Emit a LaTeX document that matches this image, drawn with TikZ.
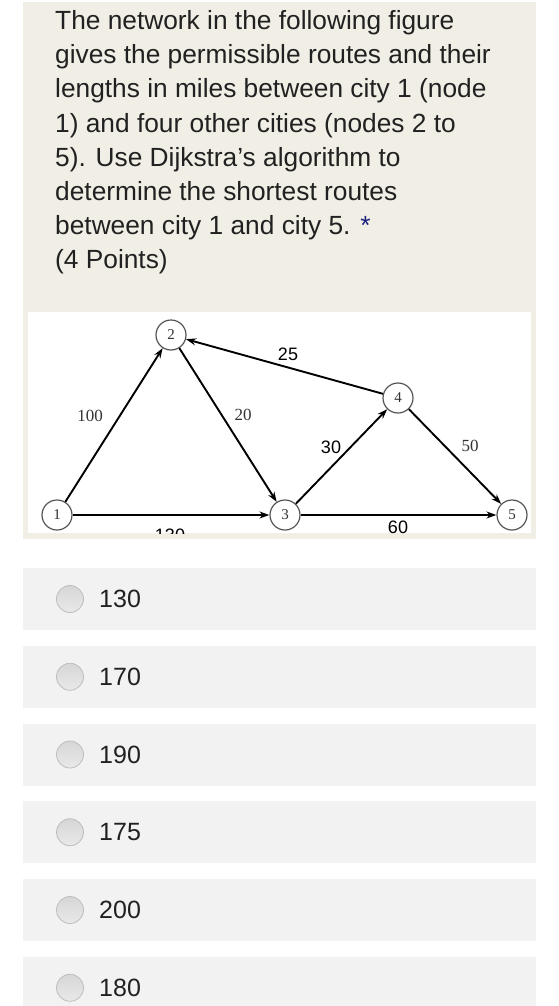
\documentclass[tikz,border=0pt]{standalone}
\usepackage{fontspec}
\setmainfont{Liberation Sans}
\newfontfamily\numserif{Liberation Serif}
\usetikzlibrary{arrows.meta}
\definecolor{panelbg}{HTML}{F1EEE5}
\definecolor{optbg}{HTML}{F2F2F2}
\definecolor{txt}{HTML}{212121}
\definecolor{starblue}{HTML}{1A237E}
\definecolor{radiotop}{HTML}{D6D6D6}
\definecolor{radiobot}{HTML}{E9E9E9}
\definecolor{radioedge}{HTML}{BDBDBD}
\definecolor{nodegrey}{HTML}{555555}
\definecolor{labgrey}{HTML}{333333}
\begin{document}
\begin{tikzpicture}[x=1pt,y=-1pt,
  qline/.style={anchor=base west, inner sep=0pt, text=txt, font=\fontsize{26.3}{30}\selectfont},
  optbox/.style={fill=optbg, draw=none, minimum width=513pt, minimum height=62pt, anchor=north west, inner sep=0pt},
  radio/.style={circle, minimum size=27pt, inner sep=0pt, draw=radioedge, line width=0.8pt, top color=radiotop, bottom color=radiobot},
  opttext/.style={anchor=west, inner sep=0pt, text=txt, font=\fontsize{25}{30}\selectfont},
  city/.style={circle, draw=nodegrey, line width=1.2pt, fill=white, minimum size=30pt, inner sep=0pt, font=\numserif\fontsize{15}{15}\selectfont, text=labgrey},
  edgearrow/.style={-{Stealth[length=10pt,width=7pt]}, line width=1.9pt, black},
  wserif/.style={font=\numserif\fontsize{17}{17}\selectfont, text=labgrey, inner sep=0pt},
  wsans/.style={font=\fontsize{18}{18}\selectfont, text=black, inner sep=0pt}
]
\useasboundingbox (0,0) rectangle (559,1006);
\fill[white] (0,0) rectangle (559,1006);
% question panel
\fill[panelbg] (23,2) rectangle (536,539);
\node[qline] (q1) at (55,30) {The network in the following figure};
\node[qline] (q2) at (55,64) {gives the permissible routes and their};
\node[qline] (q3) at (55,98) {lengths in miles between city 1 (node};
\node[qline] (q4) at (55,132) {1) and four other cities (nodes 2 to};
\node[qline] (q5) at (55,166) {5). Use Dijkstra’s algorithm to};
\node[qline] (q6) at (55,200) {determine the shortest routes};
\node[qline] (q7) at (55,234) {between city 1 and city 5. {\color{starblue}*}};
\node[qline] (q8) at (55,268) {(4 Points)};
% figure
\fill[white] (28,312) rectangle (531,533);
\begin{scope}
\clip (28,312) rectangle (531,533);
\node[city] (n1) at (57,515) {1};
\node[city] (n2) at (171,335) {2};
\node[city] (n3) at (285,515) {3};
\node[city] (n4) at (398,398) {4};
\node[city] (n5) at (512,515) {5};
\draw[edgearrow] (n1) -- (n2);
\draw[edgearrow] (n2) -- (n3);
\draw[edgearrow] (n4) -- (n2);
\draw[edgearrow] (n1) -- (n3);
\draw[edgearrow] (n3) -- (n4);
\draw[edgearrow] (n4) -- (n5);
\draw[edgearrow] (n3) -- (n5);
\node[wserif] (l100) at (90,416) {100};
\node[wserif] (l20) at (243,415) {20};
\node[wsans] (l25) at (288,354) {25};
\node[wsans] (l30) at (331,447) {30};
\node[wserif] (l50) at (470,446) {50};
\node[wsans] (l60) at (398,527) {60};
\node[wsans] (l130) at (170,535) {130};
\end{scope}
% options
\foreach \i/\v in {0/130,1/170,2/190,3/175,4/200,5/180}{
  \node[optbox] (box\i) at (23,568+77.75*\i) {};
  \node[radio] (rad\i) at (70,599+77.75*\i) {};
  \node[opttext] (opt\i) at (99,599+77.75*\i) {\v};
}
\end{tikzpicture}
\end{document}
